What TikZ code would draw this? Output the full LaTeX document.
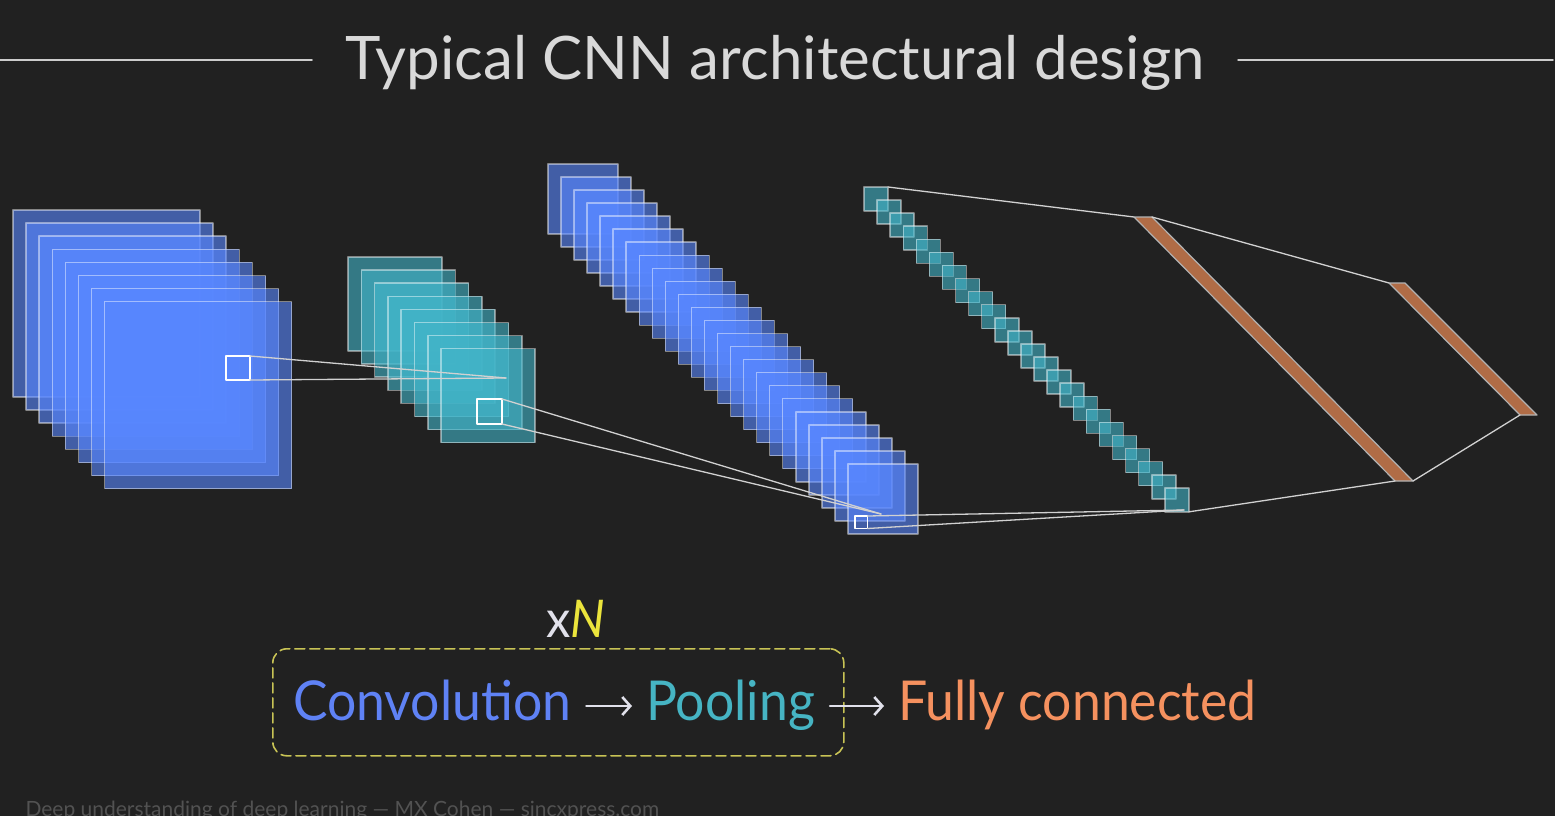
\documentclass[tikz,border=0pt]{standalone}
\usepackage{fontspec}
\setmainfont{Lato}
\newfontfamily\labelfont{Lato}[FakeStretch=0.94]
\usetikzlibrary{positioning,arrows.meta}
\definecolor{bgcol}{RGB}{33,33,33}
\definecolor{convblue}{RGB}{88,135,255}
\definecolor{poolteal}{RGB}{66,180,200}
\definecolor{fcbrown}{RGB}{176,108,70}
\definecolor{boxyellow}{RGB}{200,195,85}
\definecolor{nyellow}{RGB}{235,228,60}
\definecolor{convtext}{RGB}{95,130,245}
\definecolor{pooltext}{RGB}{70,180,195}
\definecolor{fctext}{RGB}{245,145,95}
\definecolor{softwhite}{RGB}{225,225,235}
\definecolor{footgray}{RGB}{82,82,82}
\tikzset{
  convsq/.style={draw=white, draw opacity=0.45, line width=1.5pt, fill=convblue, fill opacity=0.6,
    minimum size=#1, inner sep=0pt, outer sep=0pt, anchor=north west},
  poolsq/.style={convsq=#1, fill=poolteal},
  pick/.style={draw=white, line width=1.6pt, minimum size=#1, inner sep=0pt, outer sep=0pt, anchor=north west},
  link/.style={draw=white!82!black, line width=1.3pt},
  fcbar/.style={fill=fcbrown, draw=white!70!black, line width=1.2pt},
  rule/.style={draw=white!80!black, line width=1.5pt},
  labeltext/.style={font=\labelfont\fontsize{55}{60}\selectfont, inner sep=0pt, text height=40pt, text depth=12pt, anchor=base west},
  flow/.style={draw=softwhite, line width=2.6pt, -{Straight Barb[length=8pt,width=18pt]}, shorten <=15pt, shorten >=14pt},
}
\begin{document}
\begin{tikzpicture}[x=1pt, y=-1pt, line join=round, line cap=round]
  \fill[bgcol] (0,0) rectangle (1555,816);
  \useasboundingbox (0,0) rectangle (1555,816);
  % title
  \node[anchor=base, text=white!85!black, font=\fontsize{60}{70}\selectfont] (title) at (775,80) {Typical CNN architectural design};
  \draw[rule] (0,60) -- (312,60);
  \draw[rule] (1238,60) -- (1553,60);
  % convolution stack
  \foreach \i in {0,...,7}
    \node[convsq=187pt] (ca\i) at ({13+13.1*\i},{210+13.1*\i}) {};
  \node[pick=24pt] (ka) at (226,356) {};
  % pooling stack
  \foreach \i in {0,...,7}
    \node[poolsq=94pt] (pa\i) at ({348+13.3*\i},{257+13.1*\i}) {};
  \node[pick=25pt] (kb) at (477,399) {};
  % second convolution stack
  \foreach \i in {0,...,23}
    \node[convsq=70pt] (cb\i) at ({548+13.04*\i},{164+13.04*\i}) {};
  \node[pick=12.5pt] (kc) at (855,516) {};
  % second pooling stack
  \foreach \i in {0,...,23}
    \node[poolsq=24pt] (pb\i) at ({864+13.08*\i},{187+13.08*\i}) {};
  % fully connected layers
  \coordinate (fa1) at (1134,217); \coordinate (fa2) at (1152,217);
  \coordinate (fa3) at (1413,481); \coordinate (fa4) at (1395,481);
  \coordinate (fb1) at (1389,283); \coordinate (fb2) at (1405,283);
  \coordinate (fb3) at (1537,415); \coordinate (fb4) at (1520,415);
  \draw[fcbar] (fa1) -- (fa2) -- (fa3) -- (fa4) -- cycle;
  \draw[fcbar] (fb1) -- (fb2) -- (fb3) -- (fb4) -- cycle;
  % receptive fields
  \coordinate (ta) at (506,378);
  \coordinate (tb) at (881,514);
  \coordinate (tc) at (1184,510);
  \draw[link] (ka.north east) -- (ta);
  \draw[link] (ka.south east) -- (ta);
  \draw[link] (kb.north east) -- (tb);
  \draw[link] (kb.south east) -- (tb);
  \draw[link] (kc.north east) -- (tc);
  \draw[link] (kc.south east) -- (tc);
  \draw[link] (pb0.north east) -- (fa1);
  \draw[link] (pb23.south east) -- (fa4);
  \draw[link] (fa2) -- (fb1);
  \draw[link] (fa3) -- (fb4);
  % pipeline
  \node[draw=boxyellow, line width=1.6pt, dash pattern=on 10pt off 5pt, rounded corners=14pt,
    minimum width=571pt, minimum height=107pt, inner sep=0pt, anchor=north west] (rep) at (272,648) {};
  \node[anchor=base, text=softwhite, font=\labelfont\fontsize{52}{60}\selectfont] (times) at (576,637) {x\textcolor{nyellow}{\itshape N}};
  \node[labeltext, text=convtext] (conv) at (293,720) {Convolution};
  \node[labeltext, text=pooltext] (pool) at (646,720) {Pooling};
  \node[labeltext, text=fctext] (fc) at (898,720) {Fully connected};
  \draw[flow] (conv.east) -- (pool.west);
  \draw[flow] (pool.east) -- (fc.west);
  % footer
  \node[anchor=base west, text=footgray, font=\fontsize{21}{24}\selectfont] (foot) at (22,816) {Deep understanding of deep learning — MX Cohen — sincxpress.com};
\end{tikzpicture}
\end{document}
